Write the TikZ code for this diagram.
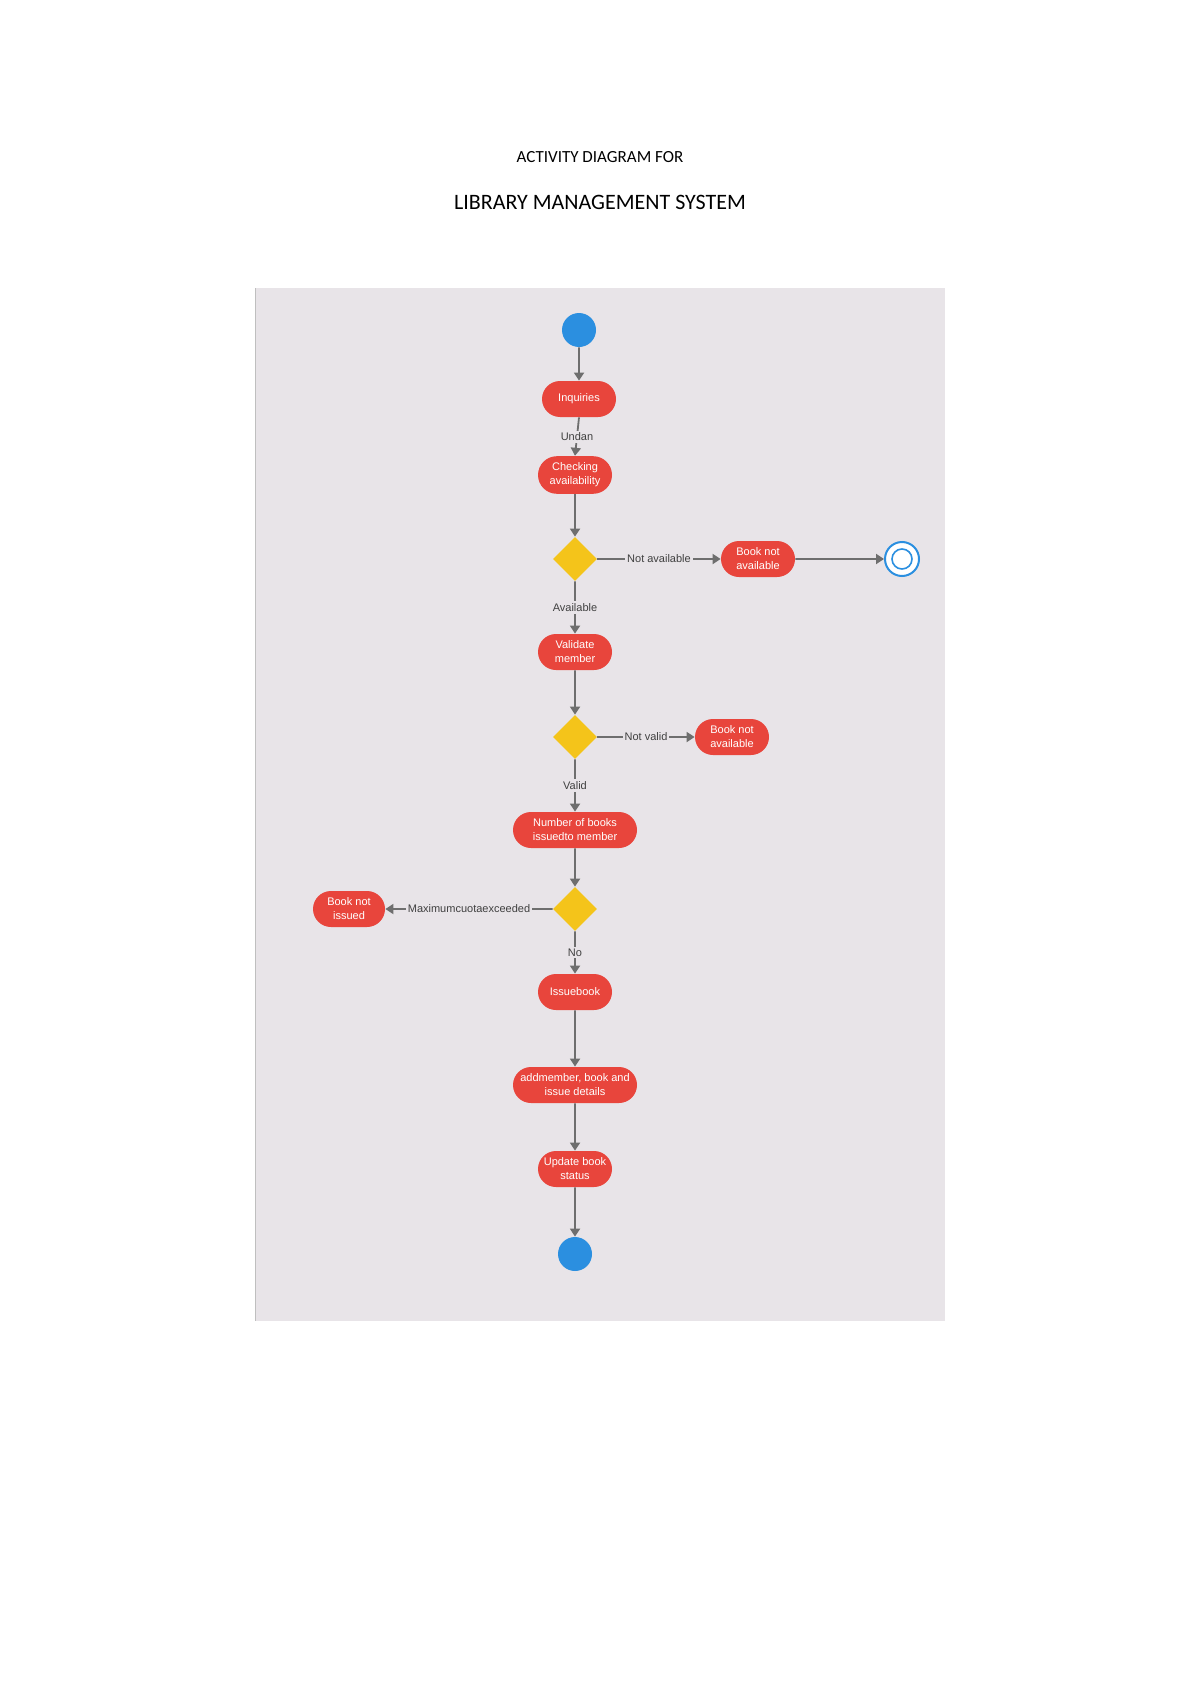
\documentclass[tikz,border=0pt]{standalone}
\usepackage{fontspec}
\setmainfont{Liberation Sans}
\newfontfamily\titlefont{Carlito}
\usetikzlibrary{shapes.geometric,shapes.misc,arrows.meta}
\definecolor{bgc}{HTML}{E8E4E8}
\definecolor{redc}{HTML}{E8453C}
\definecolor{yelc}{HTML}{F4C41A}
\definecolor{bluec}{HTML}{2B8FE0}
\definecolor{arrc}{HTML}{6E6E6E}
\tikzset{
 act/.style={rounded rectangle, fill=redc, text=white, font=\fontsize{5.5}{7}\selectfont, align=center, minimum height=18pt, inner xsep=3pt},
 dec/.style={diamond, fill=yelc, minimum width=22pt, minimum height=22pt, inner sep=0pt},
 startc/.style={circle, fill=bluec, minimum size=17pt, inner sep=0pt},
 flow/.style={draw=arrc, line width=0.9pt, -{Triangle[width=5pt,length=4pt]}},
 lbl/.style={fill=bgc, text=black!75, font=\fontsize{5.5}{7}\selectfont, inner sep=1pt}
}
\begin{document}
\begin{tikzpicture}[x=0.5pt,y=-0.5pt]
\useasboundingbox (0,0) rectangle (1200,1696);
\fill[white] (0,0) rectangle (1200,1696);
\fill[bgc] (255,288) rectangle (945,1321);
\draw[black!25,line width=0.5pt] (255,288) -- (255,1321);
\node[font=\titlefont\fontsize{8.5}{10}\selectfont] (t1) at (600,157) {ACTIVITY DIAGRAM FOR};
\node[font=\titlefont\fontsize{11}{13}\selectfont] (t2) at (600,202) {LIBRARY MANAGEMENT SYSTEM};

\node[startc] (s) at (579,330) {};
\node[act, minimum width=43pt] (inq) at (579,399) {Inquiries};
\node[act, minimum width=43pt] (chk) at (575,475) {Checking\\availability};
\node[dec] (d1) at (575,559) {};
\node[act, minimum width=43pt] (bna1) at (758,559) {Book not\\available};
\node[circle, draw=bluec, line width=1pt, fill=white, minimum size=17pt, inner sep=0pt] (e1) at (902,559) {};
\node[circle, draw=bluec, line width=0.8pt, minimum size=10pt, inner sep=0pt] (e1i) at (902,559) {};
\node[act, minimum width=43pt] (val) at (575,652) {Validate\\member};
\node[dec] (d2) at (575,737) {};
\node[act, minimum width=43pt] (bna2) at (732,737) {Book not\\available};
\node[act, minimum width=68pt] (num) at (575,830) {Number of books\\issuedto member};
\node[dec] (d3) at (575,909) {};
\node[act, minimum width=42pt] (bni) at (349,909) {Book not\\issued};
\node[act, minimum width=43pt] (iss) at (575,992) {Issuebook};
\node[act, minimum width=68pt] (add) at (575,1085) {addmember, book and\\issue details};
\node[act, minimum width=43pt] (upd) at (575,1169) {Update book\\status};
\node[startc] (f) at (575,1254) {};

\draw[flow] (s) -- (inq);
\draw[flow] (inq.south) -- node[lbl] {Undan} (chk.north);
\draw[flow] (chk) -- (d1);
\draw[flow] (d1) -- node[lbl] {Not available} (bna1);
\draw[flow] (bna1) -- (e1);
\draw[flow] (d1) -- node[lbl] {Available} (val);
\draw[flow] (val) -- (d2);
\draw[flow] (d2) -- node[lbl] {Not valid} (bna2);
\draw[flow] (d2) -- node[lbl] {Valid} (num);
\draw[flow] (num) -- (d3);
\draw[flow] (d3) -- node[lbl] {Maximumcuotaexceeded} (bni);
\draw[flow] (d3) -- node[lbl] {No} (iss);
\draw[flow] (iss) -- (add);
\draw[flow] (add) -- (upd);
\draw[flow] (upd) -- (f);
\end{tikzpicture}
\end{document}
